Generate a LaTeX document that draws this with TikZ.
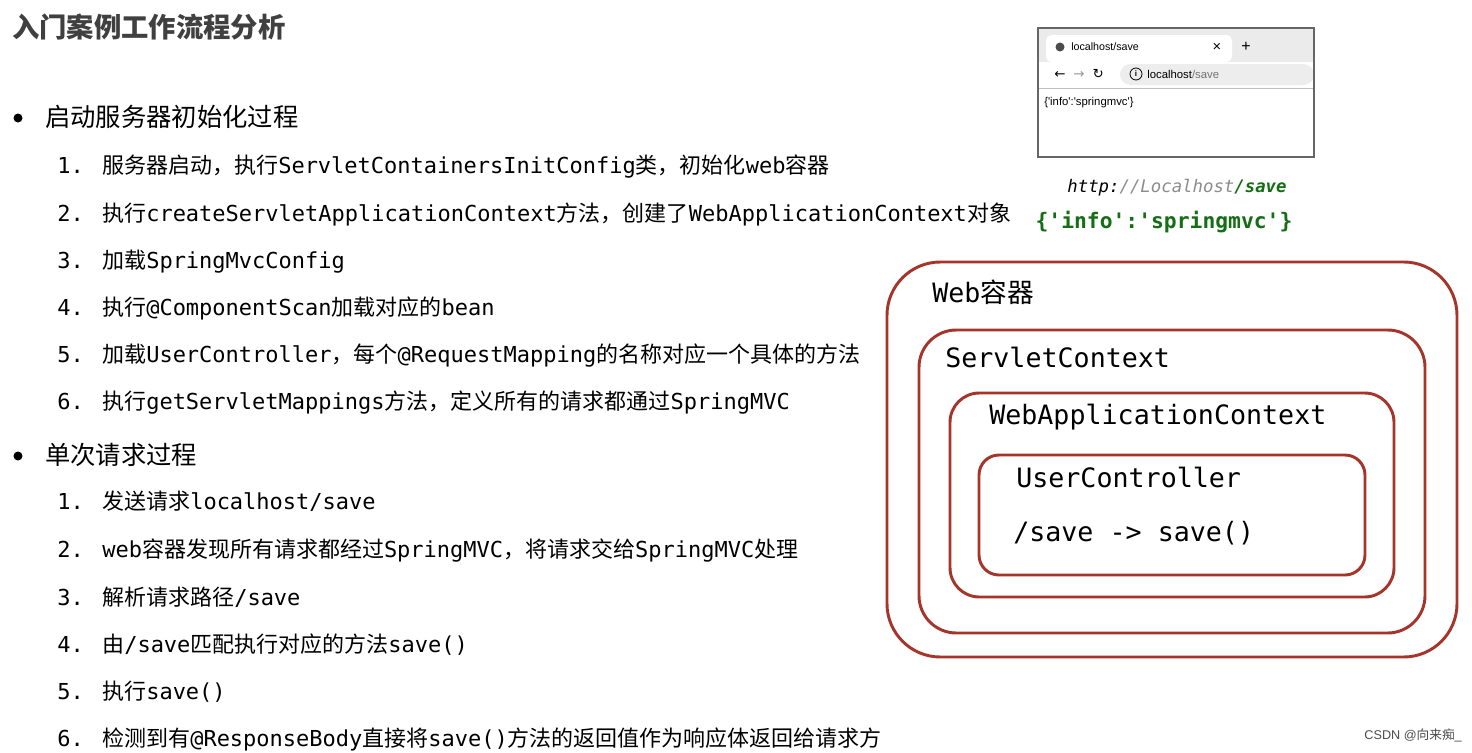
\documentclass[tikz,border=0pt]{standalone}
\usepackage{fontspec}
\setmainfont{DejaVu Sans Mono}
\newfontfamily\cjk{Noto Sans CJK SC}
\newfontfamily\sansf{Liberation Sans}
\newfontfamily\dvs{DejaVu Sans}
\newcommand{\cj}[1]{{\cjk #1}}
\newcommand{\q}{\textquotesingle}
\definecolor{boxred}{RGB}{165,52,42}
\definecolor{gr}{RGB}{20,110,20}
\tikzset{
 item/.style={anchor=base west,inner sep=0,font=\fontsize{16.5}{18}\selectfont},
 head/.style={anchor=west,inner sep=0,font=\cjk\fontsize{19}{22}\selectfont},
 cbox/.style={draw=boxred,line width=2.2pt,rounded corners=#1},
 blab/.style={anchor=west,inner sep=0,font=\fontsize{20}{24}\selectfont},
}
\begin{document}
\begin{tikzpicture}[x=0.75pt,y=-0.75pt]
\useasboundingbox (0,0) rectangle (1472,753);
\fill[white] (0,0) rectangle (1472,753);
\node[anchor=west,inner sep=0,font=\cjk\bfseries\fontsize{20.5}{24}\selectfont,text=black!75] (title) at (12,27) {入门案例工作流程分析};
\fill (18,118) circle (4.5);
\node[head] (h1) at (45,117) {启动服务器初始化过程};
\foreach \n/\y/\t in {
1/167/{\cj{服务器启动，执行}ServletContainersInitConfig\cj{类，初始化}web\cj{容器}},
2/215/{\cj{执行}createServletApplicationContext\cj{方法，创建了}WebApplicationContext\cj{对象}},
3/262/{\cj{加载}SpringMvcConfig},
4/309/{\cj{执行}@ComponentScan\cj{加载对应的}bean},
5/356/{\cj{加载}UserController\cj{，每个}@RequestMapping\cj{的名称对应一个具体的方法}},
6/403/{\cj{执行}getServletMappings\cj{方法，定义所有的请求都通过}SpringMVC}}
{ \node[item] (a\n) at (57,\y+6) {\n.}; \node[item] (b\n) at (102,\y+6) {\t}; }
\fill (18,456) circle (4.5);
\node[head] (h2) at (45,455) {单次请求过程};
\foreach \n/\y/\t in {
1/503/{\cj{发送请求}localhost/save},
2/551/{web\cj{容器发现所有请求都经过}SpringMVC\cj{，将请求交给}SpringMVC\cj{处理}},
3/599/{\cj{解析请求路径}/save},
4/646/{\cj{由}/save\cj{匹配执行对应的方法}save()},
5/693/{\cj{执行}save()},
6/740/{\cj{检测到有}@ResponseBody\cj{直接将}save()\cj{方法的返回值作为响应体返回给请求方}}}
{ \node[item] (c\n) at (57,\y+6) {\n.}; \node[item] (d\n) at (102,\y+6) {\t}; }
% browser
\fill[black!8] (1038,28) rectangle (1314,62);
\fill[white,rounded corners=4] (1046,35) rectangle (1232,62);
\fill[white] (1038,62) rectangle (1314,88);
\fill[black!7,rounded corners=8] (1120,64) rectangle (1314,85);
\draw[black!25] (1038,88) -- (1314,88);
\draw[black!60,line width=0.8pt] (1038,28) rectangle (1314,157);
\fill[black!70] (1060,47) circle (4.5);
\node[anchor=west,inner sep=0,font=\sansf\fontsize{8}{9}\selectfont] (tab) at (1071,47) {localhost/save};
\node[inner sep=0,font=\sansf\fontsize{11}{11}\selectfont] (x) at (1217,47) {×};
\node[inner sep=0,font=\sansf\fontsize{12}{12}\selectfont] (plus) at (1246,47) {+};
\node[inner sep=0,font=\dvs\fontsize{10}{10}\selectfont] (nav) at (1079,74) {←\hspace{6pt}\textcolor{black!40}{→}\hspace{6pt}↻};
\node[draw,circle,inner sep=0,minimum size=9pt,line width=0.6pt,font=\sansf\bfseries\fontsize{6}{6}\selectfont] (info) at (1136,74) {i};
\node[anchor=west,inner sep=0,font=\sansf\fontsize{8.5}{9}\selectfont] (url) at (1147,74) {localhost\textcolor{black!55}{/save}};
\node[anchor=west,inner sep=0,font=\sansf\fontsize{8.5}{9}\selectfont] (resp) at (1044,103) {\{\q info\q:\q springmvc\q\}};
\node[inner sep=0,font=\itshape\fontsize{13}{15}\selectfont] (http) at (1177,188) {http:\textcolor{black!45}{//Localhost}\textcolor{gr}{\bfseries/save}};
\node[inner sep=0,font=\bfseries\fontsize{16}{18}\selectfont,text=gr] (json) at (1164,222) {\{\q info\q:\q springmvc\q\}};
% boxes
\draw[cbox=40] (887,262) rectangle (1457,657);
\draw[cbox=28] (919,330) rectangle (1425,633);
\draw[cbox=22] (950,393) rectangle (1394,597);
\draw[cbox=15] (979,455) rectangle (1365,575);
\node[blab] (web) at (932,292) {Web\cj{容器}};
\node[blab] (sc) at (945,357) {ServletContext};
\node[blab] (wac) at (989,417) {WebApplicationContext};
\node[blab] (uc) at (1016,477) {UserController};
\node[blab] (sv) at (1013,533) {/save -> save()};
\node[anchor=east,inner sep=0,font=\sansf\fontsize{9.5}{11}\selectfont,text=black!70] (csdn) at (1462,735) {CSDN @\cj{向来痴}\_};
\end{tikzpicture}
\end{document}
